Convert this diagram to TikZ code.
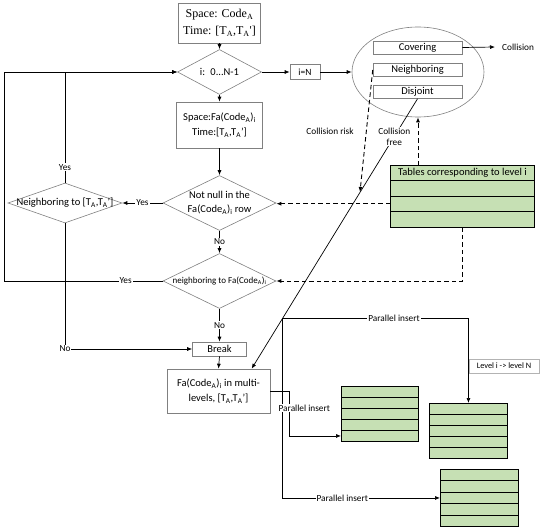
\documentclass[tikz,border=0pt]{standalone}
\usepackage{fontspec}
\setmainfont{Carlito}
\newfontfamily\timesf{Liberation Serif}
\usetikzlibrary{shapes.geometric,arrows.meta,calc}
\definecolor{bord}{RGB}{128,128,128}
\definecolor{tgreen}{RGB}{198,224,180}
\begin{document}
\begin{tikzpicture}[x=1pt,y=-1pt,
  bx/.style={draw=bord, line width=0.6pt, fill=white, inner sep=0pt, align=center, font=\fontsize{10.5}{14}\selectfont},
  dia/.style={diamond, draw=bord, line width=0.6pt, inner sep=0pt, fill=white},
  dtext/.style={align=center, font=\fontsize{10.5}{14}\selectfont},
  arr/.style={-{Latex[length=5pt,width=4pt]}, line width=0.7pt},
  dsh/.style={dash pattern=on 4.5pt off 3pt, line width=0.9pt},
  lbl/.style={font=\fontsize{9.3}{11}\selectfont, fill=white, inner sep=1pt, align=center},
  trow/.style={draw=black, line width=0.9pt, fill=tgreen, inner sep=0pt, anchor=north west}
]
\useasboundingbox (0,0) rectangle (550,530);

% main column
\node[bx, minimum width=82pt, minimum height=40pt, font=\timesf\fontsize{12}{17}\selectfont] (top) at (219.5,23)
  {Space: Code\textsubscript{A}\\Time: [T\textsubscript{A},T\textsubscript{A}']};
\node[dia, minimum width=84pt, minimum height=45pt,
  label={[dtext]center:i:\enspace 0...N-1}] (loop) at (219.5,72) {};
\node[bx, minimum width=30pt, minimum height=15pt, font=\fontsize{9.5}{11}\selectfont] (iN) at (305,72) {i=N};
\node[ellipse, draw=bord, line width=0.6pt, minimum width=132pt, minimum height=90pt, inner sep=0pt] (ell) at (418,72) {};
\node[bx, minimum width=89pt, minimum height=13pt] (cov) at (417.5,47.5) {Covering};
\node[bx, minimum width=89pt, minimum height=13pt] (nbr) at (417.5,70) {Neighboring};
\node[bx, minimum width=89pt, minimum height=13pt] (dis) at (417.5,92) {Disjoint};
\node[anchor=west, inner xsep=7pt, inner ysep=1pt, font=\fontsize{9.3}{11}\selectfont] (coll) at (495,47) {Collision};

\node[bx, minimum width=86pt, minimum height=46pt, font=\fontsize{10.5}{15}\selectfont] (fa) at (219.5,125)
  {Space:Fa(Code\textsubscript{A})\textsubscript{i}\\Time:[T\textsubscript{A},T\textsubscript{A}']};
\node[dia, minimum width=113pt, minimum height=55pt,
  label={[dtext]center:Not null in the\\Fa(Code\textsubscript{A})\textsubscript{i} row}] (nn) at (219.5,203) {};
\node[dia, minimum width=114pt, minimum height=40pt,
  label={[dtext]center:Neighboring to [T\textsubscript{A},T\textsubscript{A}']}] (ng) at (65,203) {};
\node[dia, minimum width=113pt, minimum height=55pt,
  label={[dtext, font=\fontsize{9}{12}\selectfont]center:neighboring to Fa(Code\textsubscript{A})\textsubscript{i}}] (nb) at (219.5,281) {};
\node[bx, minimum width=54pt, minimum height=14pt] (brk) at (219.5,349) {Break};
\node[bx, minimum width=103pt, minimum height=44pt, font=\fontsize{10.5}{15}\selectfont] (ml) at (218.5,391)
  {Fa(Code\textsubscript{A})\textsubscript{i} in multi-\\levels, [T\textsubscript{A},T\textsubscript{A}']};

% table for level i
\node[trow, minimum width=144pt, minimum height=15pt, font=\fontsize{10.5}{12}\selectfont] (t0) at (390,165) {Tables corresponding to level i};
\node[trow, minimum width=144pt, minimum height=15.5pt] (t1) at (390,180) {};
\node[trow, minimum width=144pt, minimum height=15.5pt] (t2) at (390,195.5) {};
\node[trow, minimum width=144pt, minimum height=15.5pt] (t3) at (390,211) {};

% multi-level tables
\foreach \k in {1,...,5} {
  \node[trow, minimum width=77pt, minimum height=11pt] (a\k) at (341,{386+11*(\k-1)}) {};
  \node[trow, minimum width=78pt, minimum height=11pt] (b\k) at (429,{403+11*(\k-1)}) {};
  \node[trow, minimum width=78pt, minimum height=11.4pt] (c\k) at (440,{469+11.4*(\k-1)}) {};
}
\node[bx, draw=bord!60, minimum width=70pt, minimum height=14pt, font=\fontsize{8.3}{10}\selectfont] (lvl) at (504,366) {Level i -> level N};

\node[font=\fontsize{9.3}{11}\selectfont] (risk) at (330,131) {Collision risk};

% connectors
\draw[arr] (top.south) -- (loop.north);
\draw[arr] (loop.south) -- (fa.north);
\draw[arr] (fa.south) -- (nn.north);
\draw[arr] (nn.south) -- node[lbl]{No} (nb.north);
\draw[arr] (nb.south) -- node[lbl]{No} (brk.north);
\draw[arr] (brk.south) -- (ml.north);
\draw[arr] (loop.east) -- (iN.west);
\draw[arr] (iN.east) -- (ell.west);
\draw[arr] (cov.east) -- (coll.west);

\draw[arr] (nn.west) -- node[lbl]{Yes} (ng.east);
\coordinate (lft) at (4,281);
\draw[arr] (nb.west) -- node[lbl, pos=0.234]{Yes} (lft) |- (loop.west);
\draw[arr] (ng.north) |- node[lbl, pos=0.07]{Yes} (loop.west);
\draw[arr] (ng.south) |- node[lbl, pos=0.5]{No} (brk.west);

\draw[arr, dsh] (ell.south |- t0.north) -- (ell.south);
\draw[arr, dsh] (t2.west) -- (t2.west -| nn.east);
\draw[arr, dsh] (t3.south) |- (nb.east);
\coordinate (riskend) at (360,192);
\draw[arr, dsh] (nbr.west) -- (riskend);

\coordinate (mlend) at ($(ml.north west)!0.82!(ml.north east)$);
\draw[arr] (dis.south) -- node[lbl, pos=0.14]{Collision\\free} (mlend);

\coordinate (pc) at ($(dis.south)!0.815!(mlend)$);
\draw[arr] (pc) -| node[lbl, pos=0.3]{Parallel insert} (b1.north);
\draw[arr] (pc) |- node[lbl, pos=0.69]{Parallel insert} (c3.west);
\draw[arr] (ml.east) -- ++(19,0) |- node[lbl, pos=0.19, xshift=15pt]{Parallel insert} (a5.west);
\end{tikzpicture}
\end{document}
